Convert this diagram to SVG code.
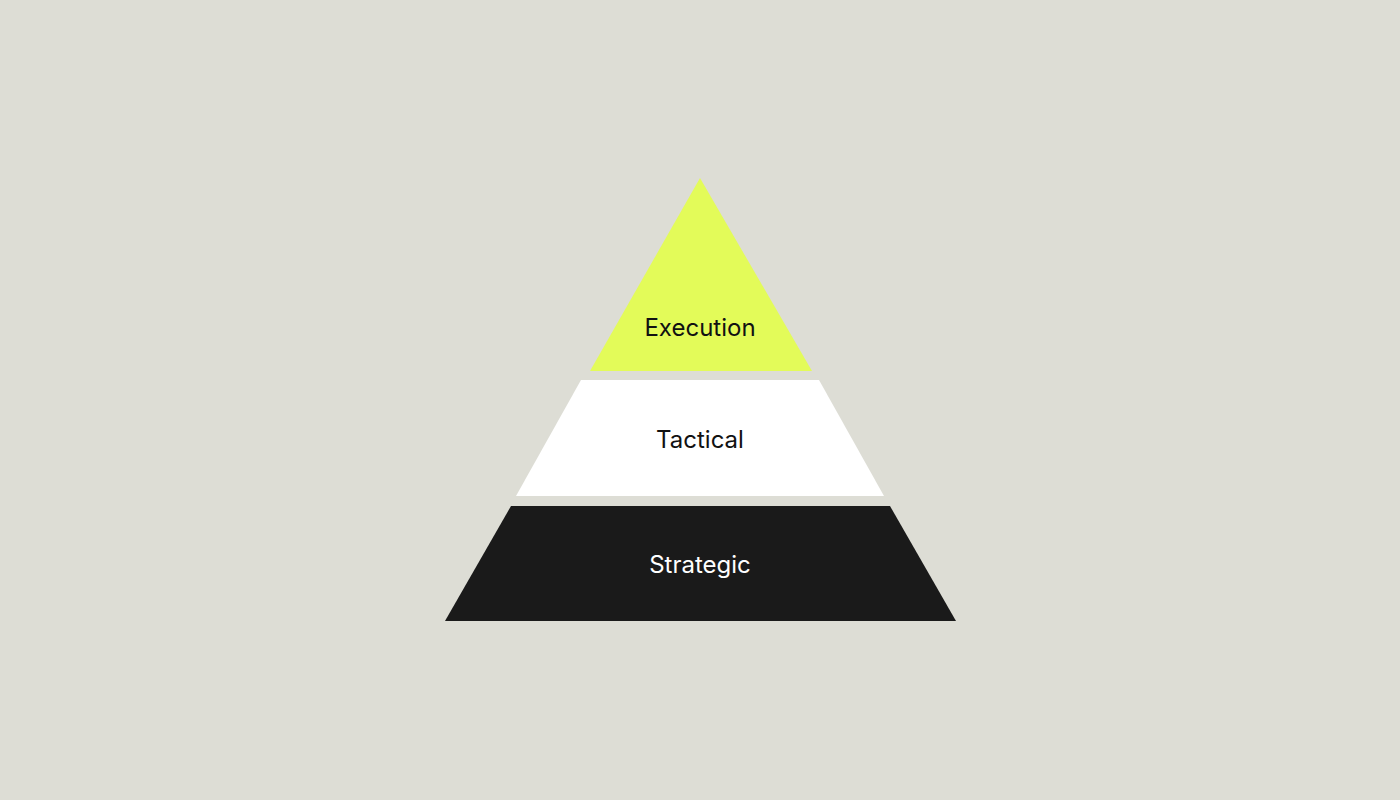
<svg xmlns="http://www.w3.org/2000/svg" width="1400" height="800" viewBox="0 0 1400 800">
  <style>
    .lbl { font-family: Inter, "Liberation Sans", sans-serif; font-size: 24px; text-anchor: middle; dominant-baseline: central; }
  </style>
  <rect width="1400" height="800" fill="#DDDDD5"/>
  <g id="execution">
    <polygon points="700,178 812,371 590,371" fill="#E3FB59"/>
    <text class="lbl" x="700" y="327" fill="#111111">Execution</text>
  </g>
  <g id="tactical">
    <polygon points="581,380 819,380 884,496 516,496" fill="#FFFFFF"/>
    <text class="lbl" x="700" y="439" fill="#111111">Tactical</text>
  </g>
  <g id="strategic">
    <polygon points="511,506 890,506 956,621 445,621" fill="#1A1A1A"/>
    <text class="lbl" x="700" y="564" fill="#FFFFFF">Strategic</text>
  </g>
  <g id="connectors"/>
</svg>
